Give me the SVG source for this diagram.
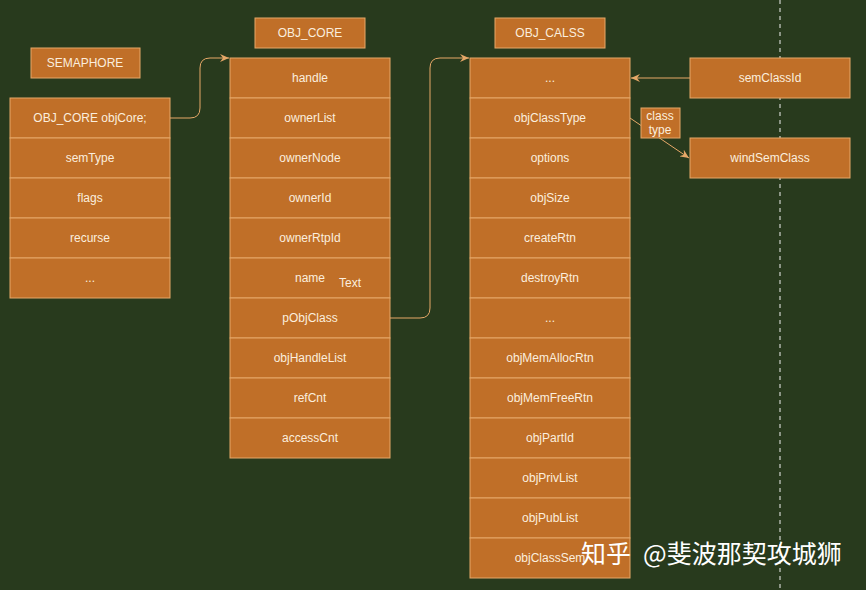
<svg xmlns="http://www.w3.org/2000/svg" width="866" height="590" viewBox="0 0 866 590">
<style>
.b{fill:#c06f28;stroke:#e6a868;stroke-width:1}
.t{font-family:"Liberation Sans",Arial,sans-serif;font-size:12px;fill:#fbeede;text-anchor:middle;dominant-baseline:central}
.c{fill:none;stroke:#e6a868;stroke-width:1}
</style>
<defs><marker id="a" markerWidth="10" markerHeight="8" refX="9" refY="4" orient="auto" markerUnits="userSpaceOnUse"><path d="M0,0 L9,4 L0,8 L3,4 Z" fill="#e6a868"/></marker></defs>
<rect width="866" height="590" fill="#283a1d"/>
<line x1="780" y1="0" x2="780" y2="590" stroke="#f0f0f0" stroke-dasharray="4,4"/>
<g id="connectors">
<path class="c" d="M170 118 H190 Q200 118 200 108 V68 Q200 58 210 58 H229" marker-end="url(#a)"/>
<path class="c" d="M390 318 H420 Q430 318 430 308 V68 Q430 58 440 58 H469" marker-end="url(#a)"/>
<path class="c" d="M690 78 H631" marker-end="url(#a)"/>
<path class="c" d="M630 118 L689 158" marker-end="url(#a)"/>
</g>
<g id="semaphore-label"><rect class="b" x="31" y="48" width="109" height="30"/><text class="t" x="85" y="63">SEMAPHORE</text></g>
<g id="semaphore">
<rect class="b" x="10" y="98" width="160" height="40"/><text class="t" x="90" y="118">OBJ_CORE objCore;</text>
<rect class="b" x="10" y="138" width="160" height="40"/><text class="t" x="90" y="158">semType</text>
<rect class="b" x="10" y="178" width="160" height="40"/><text class="t" x="90" y="198">flags</text>
<rect class="b" x="10" y="218" width="160" height="40"/><text class="t" x="90" y="238">recurse</text>
<rect class="b" x="10" y="258" width="160" height="40"/><text class="t" x="90" y="278">...</text>
</g>
<g id="objcore-label"><rect class="b" x="255" y="18" width="110" height="30"/><text class="t" x="310" y="33">OBJ_CORE</text></g>
<g id="objcore">
<rect class="b" x="230" y="58" width="160" height="40"/><text class="t" x="310" y="78">handle</text>
<rect class="b" x="230" y="98" width="160" height="40"/><text class="t" x="310" y="118">ownerList</text>
<rect class="b" x="230" y="138" width="160" height="40"/><text class="t" x="310" y="158">ownerNode</text>
<rect class="b" x="230" y="178" width="160" height="40"/><text class="t" x="310" y="198">ownerId</text>
<rect class="b" x="230" y="218" width="160" height="40"/><text class="t" x="310" y="238">ownerRtpId</text>
<rect class="b" x="230" y="258" width="160" height="40"/><text class="t" x="310" y="278">name</text><text class="t" x="350" y="283">Text</text>
<rect class="b" x="230" y="298" width="160" height="40"/><text class="t" x="310" y="318">pObjClass</text>
<rect class="b" x="230" y="338" width="160" height="40"/><text class="t" x="310" y="358">objHandleList</text>
<rect class="b" x="230" y="378" width="160" height="40"/><text class="t" x="310" y="398">refCnt</text>
<rect class="b" x="230" y="418" width="160" height="40"/><text class="t" x="310" y="438">accessCnt</text>
</g>
<g id="objclass-label"><rect class="b" x="495" y="18" width="110" height="30"/><text class="t" x="550" y="33">OBJ_CALSS</text></g>
<g id="objclass">
<rect class="b" x="470" y="58" width="160" height="40"/><text class="t" x="550" y="78">...</text>
<rect class="b" x="470" y="98" width="160" height="40"/><text class="t" x="550" y="118">objClassType</text>
<rect class="b" x="470" y="138" width="160" height="40"/><text class="t" x="550" y="158">options</text>
<rect class="b" x="470" y="178" width="160" height="40"/><text class="t" x="550" y="198">objSize</text>
<rect class="b" x="470" y="218" width="160" height="40"/><text class="t" x="550" y="238">createRtn</text>
<rect class="b" x="470" y="258" width="160" height="40"/><text class="t" x="550" y="278">destroyRtn</text>
<rect class="b" x="470" y="298" width="160" height="40"/><text class="t" x="550" y="318">...</text>
<rect class="b" x="470" y="338" width="160" height="40"/><text class="t" x="550" y="358">objMemAllocRtn</text>
<rect class="b" x="470" y="378" width="160" height="40"/><text class="t" x="550" y="398">objMemFreeRtn</text>
<rect class="b" x="470" y="418" width="160" height="40"/><text class="t" x="550" y="438">objPartId</text>
<rect class="b" x="470" y="458" width="160" height="40"/><text class="t" x="550" y="478">objPrivList</text>
<rect class="b" x="470" y="498" width="160" height="40"/><text class="t" x="550" y="518">objPubList</text>
<rect class="b" x="470" y="538" width="160" height="40"/><text class="t" x="550" y="558">objClassSem</text>
</g>
<g id="semClassId"><rect class="b" x="690" y="58" width="160" height="40"/><text class="t" x="770" y="78">semClassId</text></g>
<g id="windSemClass"><rect class="b" x="690" y="138" width="160" height="40"/><text class="t" x="770" y="158">windSemClass</text></g>
<g id="classtype"><rect class="b" x="641" y="108" width="39" height="30"/><text class="t" x="660" y="116">class</text><text class="t" x="660" y="130">type</text></g>
<text x="581" y="563" font-family="'Noto Sans CJK SC',sans-serif" font-size="25" fill="#ffffff"><tspan>知乎</tspan><tspan x="643">@斐波那契攻城狮</tspan></text>
</svg>
